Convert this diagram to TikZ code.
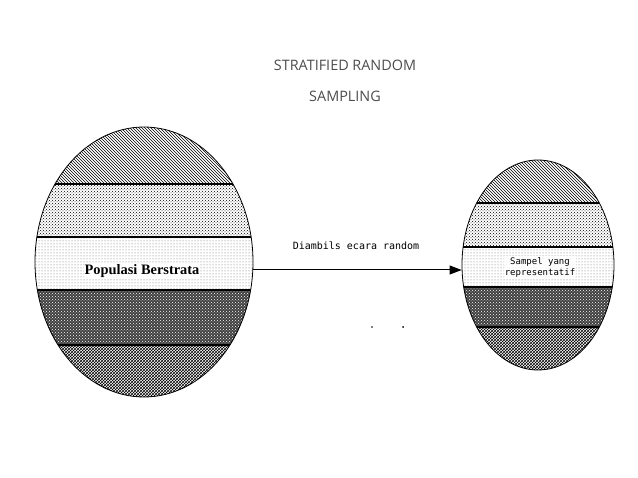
\documentclass[tikz,border=0pt]{standalone}
\usepackage{fontspec}
\setmainfont{Open Sans}
\newfontfamily\mono{DejaVu Sans Mono}
\usetikzlibrary{patterns,arrows.meta,shapes.geometric}
\tikzset{band/.style={draw=black,line width=0.8pt},
 lbl/.style={font=\mono\small, inner sep=1pt}}
\begin{document}
\begin{tikzpicture}[x=1pt,y=-1pt]
\useasboundingbox (0,0) rectangle (638,478);
\node[text=black!70, font=\Large] (t1) at (345,65) {STRATIFIED RANDOM};
\node[text=black!70, font=\Large] (t2) at (345,96) {SAMPLING};
% left
\begin{scope}
\clip (144,262) ellipse [x radius=109, y radius=135];
\fill[pattern=north west lines] (30,120) rectangle (260,184);
\fill[pattern=crosshatch dots] (30,184) rectangle (260,237);
\fill[pattern=dots, pattern color=black!60] (30,237) rectangle (260,290);
\fill[black!75] (30,290) rectangle (260,345);
\fill[pattern=crosshatch dots, pattern color=white] (30,290) rectangle (260,345);
\fill[pattern=crosshatch] (30,345) rectangle (260,400);
\foreach \y in {184,237,290,345} \draw[line width=1.2pt] (30,\y) -- (260,\y);
\end{scope}
\node[draw, ellipse, band, minimum width=218pt, minimum height=270pt] (L) at (144,262) {};
\node[fill=white, inner sep=1pt, font=\fontspec{Liberation Serif}\Large\bfseries] (lt) at (142,271) {Populasi Berstrata};
% right
\begin{scope}
\clip (538,265) ellipse [x radius=76, y radius=105];
\fill[pattern=north west lines] (460,158) rectangle (616,203);
\fill[pattern=crosshatch dots] (460,203) rectangle (616,247);
\fill[pattern=dots, pattern color=black!60] (460,247) rectangle (616,287);
\fill[black!75] (460,287) rectangle (616,327);
\fill[pattern=crosshatch dots, pattern color=white] (460,287) rectangle (616,327);
\fill[pattern=crosshatch] (460,327) rectangle (616,372);
\foreach \y in {203,247,287,327} \draw[line width=1.2pt] (460,\y) -- (616,\y);
\end{scope}
\node[draw, ellipse, band, minimum width=152pt, minimum height=210pt] (R) at (538,265) {};
\node[lbl, align=center, fill=white, fill opacity=0.8, text opacity=1] (rt) at (540,267) {Sampel yang\\representatif};
\draw[-{Triangle[length=12pt,width=9pt]}, line width=1pt] (L.east |- 0,270) -- (R.west |- 0,270);
\node[lbl, font=\mono\normalsize] (al) at (356,246) {Diambils ecara random};
\fill (372,327) circle (0.8pt) coordinate (d1);
\fill (403,327) circle (1pt) coordinate (d2);
\end{tikzpicture}
\end{document}
